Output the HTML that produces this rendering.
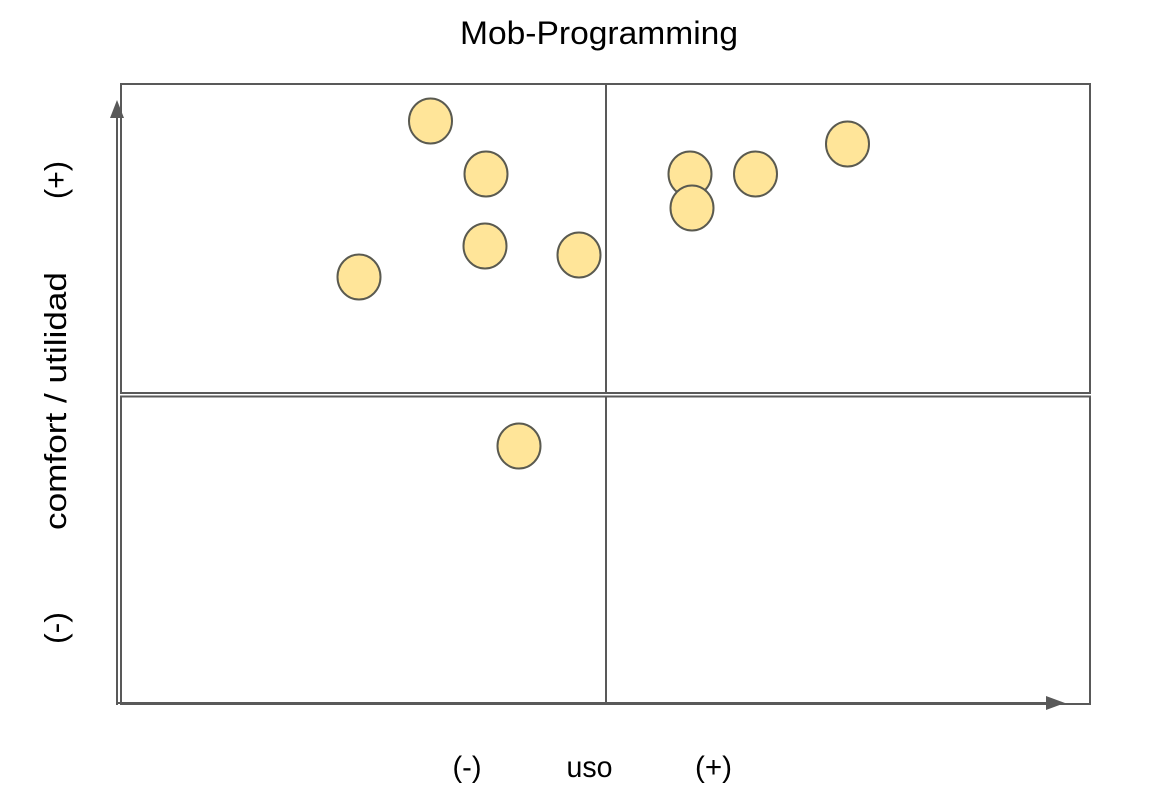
<!DOCTYPE html>
<html>
<head>
<meta charset="utf-8">
<style>
  html,body{margin:0;padding:0;background:#fff;}
  svg{display:block;}
  text{font-family:"Liberation Sans", sans-serif; fill:#000;}
</style>
</head>
<body>
<svg width="1150" height="808" viewBox="0 0 1150 808" xmlns="http://www.w3.org/2000/svg">
  <rect x="0" y="0" width="1150" height="808" fill="#fff"/>

  <!-- Title -->
  <text x="460" y="44" font-size="32" textLength="278" lengthAdjust="spacingAndGlyphs">Mob-Programming</text>

  <!-- Quadrant boxes -->
  <g fill="none" stroke="#595959" stroke-width="2">
    <rect x="121" y="84" width="485" height="309"/>
    <rect x="606" y="84" width="484" height="309"/>
    <rect x="121" y="396.5" width="485" height="307.5"/>
    <rect x="606" y="396.5" width="484" height="307.5"/>
  </g>

  <!-- Y axis arrow -->
  <line x1="117" y1="705" x2="117" y2="116" stroke="#595959" stroke-width="2"/>
  <polygon points="117,100 110,118 124,118" fill="#595959"/>

  <!-- X axis arrow -->
  <line x1="117" y1="703" x2="1048" y2="703" stroke="#595959" stroke-width="2"/>
  <polygon points="1065,703 1046,696 1046,710" fill="#595959"/>

  <!-- Circles -->
  <g fill="#FFE599" stroke="#5a5a50" stroke-width="2">
    <ellipse cx="430.5" cy="121" rx="21.5" ry="22.5"/>
    <ellipse cx="486" cy="174" rx="21.5" ry="22.5"/>
    <ellipse cx="485" cy="246" rx="21.5" ry="22.5"/>
    <ellipse cx="359" cy="277" rx="21.5" ry="22.5"/>
    <ellipse cx="579" cy="255" rx="21.5" ry="22.5"/>
    <ellipse cx="690" cy="174" rx="21.5" ry="22.5"/>
    <ellipse cx="692" cy="208" rx="21.5" ry="22.5"/>
    <ellipse cx="755.5" cy="174" rx="21.5" ry="22.5"/>
    <ellipse cx="847.5" cy="144" rx="21.5" ry="22.5"/>
    <ellipse cx="519" cy="446" rx="21.5" ry="22.5"/>
  </g>

  <!-- X axis labels -->
  <text x="452.5" y="777" font-size="30" textLength="29" lengthAdjust="spacingAndGlyphs">(-)</text>
  <text x="566.5" y="777" font-size="30" textLength="46" lengthAdjust="spacingAndGlyphs">uso</text>
  <text x="695" y="777" font-size="30" textLength="37" lengthAdjust="spacingAndGlyphs">(+)</text>

  <!-- Y axis labels (rotated) -->
  <text transform="translate(66,199) rotate(-90)" font-size="31" textLength="38" lengthAdjust="spacingAndGlyphs">(+)</text>
  <text transform="translate(66,530) rotate(-90)" font-size="31" textLength="258" lengthAdjust="spacingAndGlyphs">comfort / utilidad</text>
  <text transform="translate(66,644) rotate(-90)" font-size="31" textLength="32" lengthAdjust="spacingAndGlyphs">(-)</text>
</svg>
</body>
</html>
